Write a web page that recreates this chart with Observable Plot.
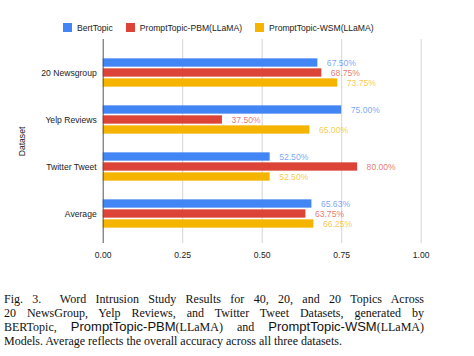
<!DOCTYPE html>
<html>
<head>
<meta charset="utf-8">
<script src="https://cdn.jsdelivr.net/npm/d3@7"></script>
<script src="https://cdn.jsdelivr.net/npm/@observablehq/plot@0.6"></script>
<style>
  html, body { margin: 0; padding: 0; background: #fff; }
  body { width: 474px; height: 356px; overflow: hidden; font-family: Arial, "Liberation Sans", sans-serif; }
  #legend { height: 35px; box-sizing: border-box; padding-top: 20px; padding-left: 63px; display: flex; gap: 13px; font-size: 8.6px; color: #222; line-height: 10px; }
  #legend .item { display: flex; align-items: center; gap: 5px; white-space: nowrap; }
  #legend .sw { width: 9px; height: 9px; display: inline-block; }
  #chart svg { display: block; }
  #caption { margin-top: 27px; margin-left: 4px; width: 420px; font-family: "Liberation Serif", "Times New Roman", serif; font-size: 12px; line-height: 13.7px; color: #111; }
  #caption .ln { text-align: justify; text-align-last: justify; white-space: nowrap; }
  #caption .ln.last { text-align-last: left; }
  #caption .sans { font-family: Arial, "Liberation Sans", sans-serif; font-size: 13px; }
</style>
</head>
<body>
<div id="legend"></div>
<div id="chart"></div>
<div id="caption">
  <div class="ln">Fig. 3.&nbsp; Word Intrusion Study Results for 40, 20, and 20 Topics Across</div>
  <div class="ln">20 NewsGroup, Yelp Reviews, and Twitter Tweet Datasets, generated by</div>
  <div class="ln">BERTopic, <span class="sans">PromptTopic-PBM</span>(LLaMA) and <span class="sans">PromptTopic-WSM</span>(LLaMA)</div>
  <div class="ln last">Models. Average reflects the overall accuracy across all three datasets.</div>
</div>
<script>
const datasets = ["20 Newsgroup", "Yelp Reviews", "Twitter Tweet", "Average"];
const series = ["BertTopic", "PromptTopic-PBM(LLaMA)", "PromptTopic-WSM(LLaMA)"];
const bertTopic = [0.675, 0.75, 0.525, 0.6563];
const pbm = [0.6875, 0.375, 0.80, 0.6375];
const wsm = [0.7375, 0.65, 0.525, 0.6625];
const xTicks = [0, 0.25, 0.5, 0.75, 1];
const colors = ["#4285F4", "#DB4437", "#F4B400"];

const valuesBySeries = [bertTopic, pbm, wsm];
const data = [];
datasets.forEach((ds, i) => {
  series.forEach((s, j) => data.push({dataset: ds, series: s, value: valuesBySeries[j][i]}));
});

// legend
const legend = document.getElementById("legend");
series.forEach((s, j) => {
  const it = document.createElement("span");
  it.className = "item";
  const sw = document.createElement("span");
  sw.className = "sw";
  sw.style.background = colors[j];
  const t = document.createElement("span");
  t.textContent = s;
  it.appendChild(sw); it.appendChild(t);
  legend.appendChild(it);
});

const pct = d3.format(".2%");
const barStep = 10;      // vertical spacing between the bars of a group
const barThick = 8.7;    // bar thickness

const seriesMarks = series.flatMap((s, j) => {
  const rows = data.filter(d => d.series === s);
  const dy = (j - 1) * barStep;
  return [
    Plot.barX(rows, {x: "value", y: "dataset", fill: "series", dy, insetTop: 19.35, insetBottom: 19.35}),
    Plot.text(rows, {x: "value", y: "dataset", text: d => pct(d.value), fill: "series", fillOpacity: 0.72, textAnchor: "start", dx: 9, dy})
  ];
});

const chart = Plot.plot({
  width: 474,
  height: 231,
  marginTop: 4,
  marginBottom: 23,
  marginLeft: 102.7,
  marginRight: 53.3,
  style: {fontFamily: 'Arial, "Liberation Sans", sans-serif', fontSize: "8.6px", color: "#222", background: "#fff"},
  x: {domain: [0, 1], ticks: xTicks, tickFormat: d3.format(".2f"), label: null},
  y: {domain: datasets, paddingInner: 0, paddingOuter: 0.152, align: 0.625},
  color: {domain: series, range: colors},
  marks: [
    Plot.gridX(xTicks.filter(d => d > 0), {stroke: "#d4d4d4", strokeOpacity: 1, strokeWidth: 1}),
    Plot.axisX({ticks: xTicks, tickFormat: d3.format(".2f"), tickSize: 0, tickPadding: 8, label: null}),
    Plot.axisY({tickSize: 0, tickPadding: 6.5, label: "Dataset", labelAnchor: "center", labelOffset: 84}),
    ...seriesMarks,
    Plot.ruleX([0], {stroke: "#555", strokeWidth: 1})
  ]
});
document.getElementById("chart").appendChild(chart);
</script>
</body>
</html>
